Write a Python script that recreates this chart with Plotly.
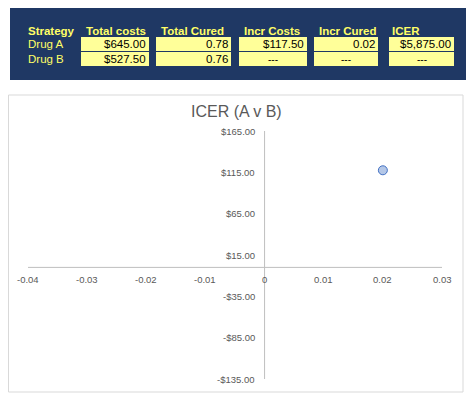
import plotly.graph_objects as go

# Data
headers = ["Strategy", "Total costs", "Total Cured", "Incr Costs", "Incr Cured", "ICER"]
strategies = ["Drug A", "Drug B"]
total_costs = ["$645.00", "$527.50"]
total_cured = ["0.78", "0.76"]
incr_costs = ["$117.50", "---"]
incr_cured = ["0.02", "---"]
icer = ["$5,875.00", "---"]
point_x = [0.02]
point_y = [117.5]
y_ticks = [165, 115, 65, 15, -35, -85, -135]
x_ticks = [-0.04, -0.03, -0.02, -0.01, 0, 0.01, 0.02, 0.03]
x_tick_labels = ["-0.04", "-0.03", "-0.02", "-0.01", "0", "0.01", "0.02", "0.03"]

OFF = 8  # page body margin
W, H = 474 - OFF, 402 - OFF
def px(x): return (x - OFF) / W
def py(y): return 1 - (y - OFF) / H

fig = go.Figure()
fig.add_trace(go.Scatter(x=point_x, y=point_y, mode="markers",
                         marker=dict(size=9, color="#b4c7e7", line=dict(color="#4472c4", width=1)),
                         showlegend=False, hoverinfo="skip"))

shapes = []
ann = []
shapes.append(dict(type="rect", xref="paper", yref="paper", x0=px(10), x1=px(466), y0=py(80), y1=py(8),
                   fillcolor="#1f3864", line=dict(width=0), layer="below"))
shapes.append(dict(type="rect", xref="paper", yref="paper", x0=px(8.5), x1=px(463), y0=py(392), y1=py(95),
                   fillcolor="rgba(0,0,0,0)", line=dict(color="#d9d9d9", width=1), layer="below"))

col_x = [(81, 149), (156, 231), (239, 307), (314, 378), (389, 454)]
header_x = [26, 84, 159, 242, 317, 390]
rows_y = [(37, 51), (52, 66)]
cols = [total_costs, total_cured, incr_costs, incr_cured, icer]
yellow_txt = "#ffff66"
for i, h in enumerate(headers):
    ann.append(dict(xref="paper", yref="paper", x=px(header_x[i]), y=py(31), text="<b>%s</b>" % h,
                    showarrow=False, xanchor="left", yanchor="middle",
                    font=dict(family="Arial", size=11.5, color=yellow_txt)))
for r, (y0, y1) in enumerate(rows_y):
    ym = (y0 + y1) / 2
    ann.append(dict(xref="paper", yref="paper", x=px(26), y=py(ym), text=strategies[r], showarrow=False,
                    xanchor="left", yanchor="middle", font=dict(family="Arial", size=11.5, color=yellow_txt)))
    for c, (x0, x1) in enumerate(col_x):
        shapes.append(dict(type="rect", xref="paper", yref="paper", x0=px(x0), x1=px(x1), y0=py(y1), y1=py(y0),
                           fillcolor="#ffff99", line=dict(width=0), layer="below"))
        v = cols[c][r]
        if v == "---":
            ann.append(dict(xref="paper", yref="paper", x=px((x0 + x1) / 2), y=py(ym), text=v, showarrow=False,
                            xanchor="center", yanchor="middle", font=dict(family="Arial", size=10, color="#000000")))
        else:
            ann.append(dict(xref="paper", yref="paper", x=px(x1 - 1), y=py(ym), text=v, showarrow=False,
                            xanchor="right", yanchor="middle", font=dict(family="Arial", size=11.5, color="#000000")))

for t in y_ticks:
    ann.append(dict(xref="x", yref="y", x=0, y=t, text="${:,.2f}".format(t) if t >= 0 else "-${:,.2f}".format(-t),
                    showarrow=False, xanchor="right", yanchor="middle", xshift=-8,
                    font=dict(family="Arial", size=9.5, color="#595959")))
for t, lab in zip(x_ticks, x_tick_labels):
    ann.append(dict(xref="x", yref="y", x=t, y=0, text=lab, showarrow=False, xanchor="center",
                    yanchor="top", yshift=-5, font=dict(family="Arial", size=9.5, color="#595959")))

ann.append(dict(xref="paper", yref="paper", x=px(236), y=py(111), text="ICER (A v B)", showarrow=False,
                xanchor="center", yanchor="middle", font=dict(family="Arial", size=16, color="#595959")))

fig.update_layout(
    width=W, height=H, margin=dict(l=0, r=0, t=0, b=0),
    paper_bgcolor="white", plot_bgcolor="white",
    shapes=shapes, annotations=ann,
    xaxis=dict(domain=[px(28), px(442)], range=[-0.04, 0.03], showgrid=False, showticklabels=False,
               zeroline=False, showline=False, ticks=""),
    yaxis=dict(domain=[py(379), py(131)], range=[-135, 165], showgrid=False, showticklabels=False,
               zeroline=False, showline=False, ticks=""),
)
fig.add_shape(type="line", xref="x", yref="y", x0=-0.04, x1=0.03, y0=0, y1=0, line=dict(color="#bfbfbf", width=1), layer="below")
fig.add_shape(type="line", xref="x", yref="y", x0=0, x1=0, y0=-135, y1=165, line=dict(color="#bfbfbf", width=1), layer="below")

fig.write_html("out.html")
